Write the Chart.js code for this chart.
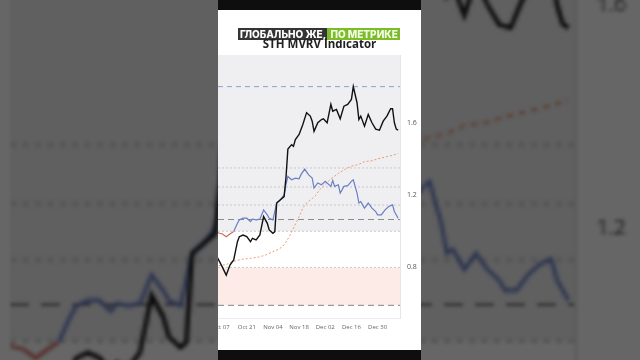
<!DOCTYPE html>
<html>
<head>
<meta charset="utf-8">
<script src="https://cdn.jsdelivr.net/npm/chart.js@4.4.1/dist/chart.umd.min.js"></script>
<style>
  html, body { margin: 0; padding: 0; }
  body { width: 640px; height: 360px; overflow: hidden; position: relative; background: #fff; font-family: "Open Sans", sans-serif; }
  .panel { position: absolute; left: 218px; top: 10px; width: 203px; height: 340px; overflow: hidden; background: #fff; }
  .panel canvas { position: absolute; left: -30px; top: 0; }
  #bgPanel { transform: scale(3.1); transform-origin: 99px 169px; filter: blur(0.6px); }
  #shade { position: absolute; left: 0; top: 0; width: 640px; height: 360px; background: rgba(0, 0, 0, 0.6); }
  .bar { position: absolute; left: 218px; width: 203px; height: 10px; background: #0e0e0e; }
  #caption { position: absolute; left: 238px; top: 29px; height: 11px; line-height: 11px; font-family: Inter, "Open Sans", sans-serif; font-weight: 800; font-size: 10px; color: #fff; white-space: nowrap; }
  #caption .dark { background: rgba(35, 35, 35, 0.92); padding: 0 1px 0 2px; }
  #caption .hl { background: #7dbb2c; color: #f2ffe2; padding: 0 2px 0 1px; }
</style>
</head>
<body>
<div class="panel" id="bgPanel"><canvas id="bgChart" width="233" height="340"></canvas></div>
<div id="shade"></div>
<div class="bar" style="top:0"></div>
<div class="bar" style="top:350px"></div>
<div class="panel" id="fgPanel"><canvas id="mainChart" width="233" height="340"></canvas></div>
<div id="caption"><span class="dark">ГЛОБАЛЬНО ЖЕ,</span><span class="hl"> ПО МЕТРИКЕ</span></div>
<script>
// days counted from Oct 07
const sthDays = [-2, -1, 1, 3, 5, 7, 9, 10, 12, 14, 16, 17, 19, 21, 23, 25, 26, 28, 29, 30, 32, 34, 35, 36, 38, 39, 40, 42, 44, 46, 48, 49, 50, 52, 54, 55, 57, 59, 60, 62, 64, 66, 68, 70, 71, 73, 74, 75, 77, 79, 81, 83, 85, 87, 89, 91, 92, 93, 94, 95];
const sthValues = [0.86, 0.84, 0.80, 0.757, 0.813, 0.841, 0.942, 0.970, 0.979, 0.970, 0.942, 0.961, 0.952, 0.979, 1.081, 1.044, 1.007, 0.989, 0.998, 1.156, 1.174, 1.192, 1.30, 1.455, 1.479, 1.47, 1.507, 1.535, 1.591, 1.656, 1.637, 1.609, 1.553, 1.600, 1.618, 1.622, 1.600, 1.702, 1.664, 1.674, 1.622, 1.692, 1.702, 1.729, 1.800, 1.711, 1.618, 1.637, 1.581, 1.646, 1.600, 1.565, 1.559, 1.609, 1.637, 1.678, 1.678, 1.60, 1.565, 1.559];
const oscDays = [-2, -1, 1, 3, 5, 7, 9, 10, 12, 14, 16, 17, 19, 21, 23, 25, 26, 28, 30, 32, 34, 35, 36, 38, 40, 42, 43, 45, 47, 49, 50, 52, 54, 56, 59, 60, 61, 63, 64, 66, 68, 70, 71, 73, 74, 75, 77, 79, 81, 83, 84, 86, 88, 90, 92, 93, 95];
const oscValues = [0.995, 0.99, 0.985, 0.97, 0.985, 0.998, 1.044, 1.063, 1.072, 1.072, 1.053, 1.067, 1.063, 1.067, 1.118, 1.091, 1.072, 1.063, 1.156, 1.174, 1.202, 1.26, 1.303, 1.285, 1.294, 1.29, 1.313, 1.344, 1.313, 1.294, 1.239, 1.267, 1.257, 1.276, 1.248, 1.281, 1.248, 1.257, 1.211, 1.248, 1.252, 1.276, 1.285, 1.211, 1.156, 1.164, 1.128, 1.156, 1.128, 1.109, 1.091, 1.091, 1.118, 1.137, 1.146, 1.109, 1.072];
const avgDays = [-1, 1, 3, 6, 11, 16, 20, 24, 28, 31, 33, 35, 37, 39, 42, 44, 46, 49, 51, 53, 56, 59, 63, 67, 70, 74, 77, 81, 84, 88, 92, 95];
const avgValues = [0.81, 0.813, 0.815, 0.831, 0.844, 0.85, 0.856, 0.868, 0.887, 0.90, 0.914, 0.94, 0.975, 1.017, 1.081, 1.128, 1.156, 1.18, 1.20, 1.23, 1.26, 1.29, 1.32, 1.345, 1.36, 1.37, 1.385, 1.39, 1.40, 1.41, 1.42, 1.43];
const tickDays = [0, 14, 28, 42, 56, 70, 84];
const tickLabels = ["Oct 07", "Oct 21", "Nov 04", "Nov 18", "Dec 02", "Dec 16", "Dec 30"];
const yTicks = [0.8, 1.2, 1.6];
const levels = [1.8, 1.35, 1.245, 1.145, 1.065, 1.0, 0.8, 0.59];
const bands = [[1.0, 1.975], [0.59, 0.8]];
const xRange = [-1.4, 96];
const yRange = [0.52, 1.975];

const levelStyle = {
  1.8: { color: "#8d9ed8", dash: [5, 4], width: 1 },
  1.065: { color: "#8c8c8c", dash: [6, 4], width: 1.2 },
  0.59: { color: "#9a9a9a", dash: [6, 4], width: 1.2 },
};
const bandColors = ["#efeff2", "#fdebe7"];

function pairs(xs, ys) {
  return xs.map((x, i) => ({ x: x, y: ys[i] }));
}

function buildConfig() {
  const datasets = [
    {
      data: pairs(sthDays, sthValues),
      borderColor: "#111",
      borderWidth: 1.4,
      order: 0,
    },
    {
      data: pairs(oscDays, oscValues),
      borderColor: "#6a7fc4",
      borderWidth: 1.2,
      segment: {
        borderColor: (ctx) =>
          (ctx.p0.parsed.y + ctx.p1.parsed.y) / 2 < 1.0 ? "#d0695f" : "#6a7fc4",
      },
      order: 1,
    },
    {
      data: pairs(avgDays, avgValues),
      borderColor: "#eb9a72",
      borderWidth: 1,
      borderDash: [2, 2],
      order: 2,
    },
  ];
  levels.forEach((v) => {
    const st = levelStyle[v] || { color: "#c9c9c9", dash: [2, 2], width: 1 };
    datasets.push({
      data: [{ x: xRange[0], y: v }, { x: xRange[1], y: v }],
      borderColor: st.color,
      borderWidth: st.width,
      borderDash: st.dash,
      order: 5,
    });
  });
  bands.forEach((b, i) => {
    datasets.push({
      data: [{ x: xRange[0], y: b[1] }, { x: xRange[1], y: b[1] }],
      borderWidth: 0,
      backgroundColor: bandColors[i],
      fill: { value: b[0] },
      order: 10,
    });
  });
  return {
    type: "line",
    data: { datasets: datasets },
    options: {
      responsive: false,
      animation: false,
      events: [],
      elements: { point: { radius: 0 }, line: { tension: 0 } },
      layout: { padding: { left: 30, right: 0, top: 0, bottom: 12.8 } },
      plugins: {
        legend: { display: false },
        tooltip: { enabled: false },
        title: {
          display: true,
          text: "STH MVRV Indicator",
          color: "#222",
          font: { family: "Open Sans", size: 11.5, weight: "bold" },
          padding: { top: 28.2, bottom: 3 },
        },
      },
      scales: {
        x: {
          type: "linear",
          min: xRange[0],
          max: xRange[1],
          grid: { display: false, drawTicks: false },
          border: { color: "#ececec" },
          afterBuildTicks: (s) => {
            s.ticks = tickDays.map((v) => ({ value: v }));
          },
          ticks: {
            autoSkip: false,
            maxRotation: 0,
            padding: 6,
            color: "#666",
            font: { family: "Open Sans", size: 6 },
            callback: (v) => tickLabels[tickDays.indexOf(v)],
          },
        },
        y: {
          position: "right",
          min: yRange[0],
          max: yRange[1],
          grid: { display: false, drawTicks: false },
          border: { color: "#e6e6e6" },
          afterBuildTicks: (s) => {
            s.ticks = yTicks.map((v) => ({ value: v }));
          },
          afterFit: (s) => {
            s.width = 21;
          },
          ticks: {
            padding: 7,
            color: "#555",
            font: { family: "Open Sans", size: 7 },
          },
        },
      },
    },
  };
}

new Chart(document.getElementById("bgChart"), buildConfig());
new Chart(document.getElementById("mainChart"), buildConfig());
</script>
</body>
</html>
